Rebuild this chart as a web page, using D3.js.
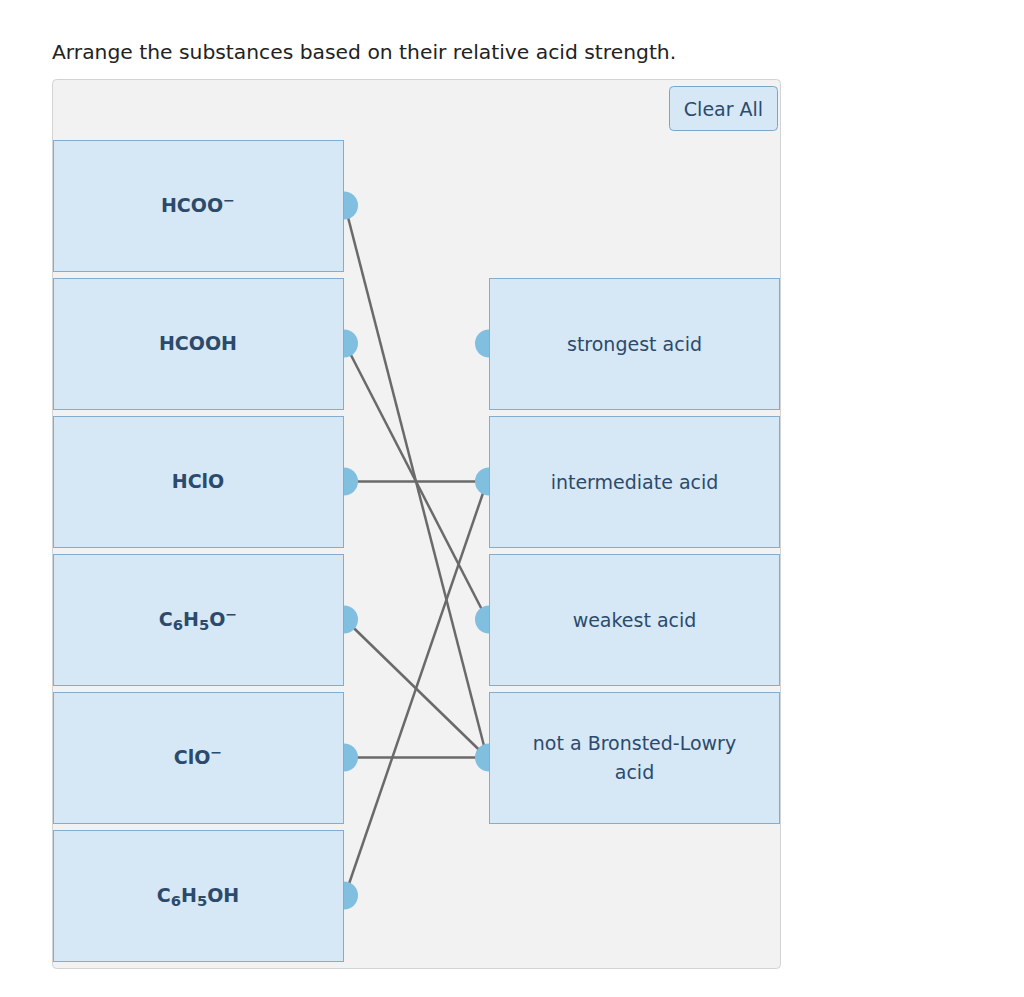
<!DOCTYPE html><html><head><meta charset="utf-8"><script src="https://cdn.jsdelivr.net/npm/d3@7"></script>
<style>body{margin:0;background:#fff}</style></head><body><svg id="c" width="1024" height="997"></svg>
<script>
const substances=[["HCOO","−"],["HCOOH",""],["HClO",""],["C6H5O","−"],["ClO","−"],["C6H5OH",""]];
const categories=[["strongest acid"],["intermediate acid"],["weakest acid"],["not a Bronsted-Lowry","acid"]];
const links=[[0,3],[1,2],[2,1],[3,3],[4,3],[5,1]];
const svg=d3.select("#c");
const font="DejaVu Sans, Verdana, sans-serif";
svg.append("text").attr("x",52).attr("y",59).attr("font-family",font).attr("font-size",20.3).attr("fill","#222").text("Arrange the substances based on their relative acid strength.");
svg.append("rect").attr("x",52.5).attr("y",79.5).attr("width",728).attr("height",889).attr("rx",4).attr("fill","#f2f2f2").attr("stroke","#d3d3d3");
const g=svg.append("g");
g.append("rect").attr("x",669.5).attr("y",86.5).attr("width",108).attr("height",44).attr("rx",4).attr("fill","#d6e8f6").attr("stroke","#7aa6c8");
g.append("text").attr("x",723.5).attr("y",116).attr("text-anchor","middle").attr("font-family",font).attr("font-size",19).attr("fill","#2c4a6b").text("Clear All");
const p=7/138;
const yL=d3.scaleBand().domain(d3.range(substances.length)).range([140,961]).paddingInner(p);
const yR=d3.scaleBand().domain(d3.range(categories.length)).range([278,823]).paddingInner(p);
const xL=53,xR=489,w=290;
const lc=i=>yL(i)+yL.bandwidth()/2, rc=i=>yR(i)+yR.bandwidth()/2;
substances.forEach((s,i)=>{
 g.append("rect").attr("x",xL+0.5).attr("y",yL(i)+0.5).attr("width",w).attr("height",yL.bandwidth()).attr("fill","#d6e8f6").attr("stroke","#82add0");
});
categories.forEach((c,i)=>{
 g.append("rect").attr("x",xR+0.5).attr("y",yR(i)+0.5).attr("width",w).attr("height",yR.bandwidth()).attr("fill","#d6e8f6").attr("stroke","#82add0");
});
links.forEach(([a,b])=>{
 g.append("line").attr("x1",xL+w+2).attr("y1",lc(a)).attr("x2",xR-2).attr("y2",rc(b)).attr("stroke","#6a6a6a").attr("stroke-width",2.5);
});
const arc=d3.arc().innerRadius(0).outerRadius(14);
substances.forEach((s,i)=>{
 g.append("path").attr("transform",`translate(${xL+w+1},${lc(i)})`).attr("d",arc({startAngle:0,endAngle:Math.PI})).attr("fill","#80bfe0");
});
categories.forEach((c,i)=>{
 g.append("path").attr("transform",`translate(${xR},${rc(i)})`).attr("d",arc({startAngle:Math.PI,endAngle:2*Math.PI})).attr("fill","#80bfe0");
});
function chem(t,name,sup){
 const parts=name.match(/\d+|\D+/g); let off=0;
 parts.forEach(pt=>{
  const isNum=/\d/.test(pt); const target=isNum?4:0;
  const sp=t.append("tspan").text(pt).attr("dy",target-off);
  if(isNum)sp.attr("font-size","0.78em");
  off=target;
 });
 if(sup)t.append("tspan").attr("font-size","0.75em").attr("dy",-7-off).text(sup);
}
substances.forEach((s,i)=>{
 const t=g.append("text").attr("x",xL+w/2).attr("y",lc(i)+6).attr("text-anchor","middle").attr("font-family",font).attr("font-weight","bold").attr("font-size",19).attr("fill","#2c4a6b");
 chem(t,s[0],s[1]);
});
categories.forEach((c,i)=>{
 c.forEach((line,k)=>{
  g.append("text").attr("x",xR+w/2+0.5).attr("y",rc(i)+7+(k-(c.length-1)/2)*29).attr("text-anchor","middle").attr("font-family",font).attr("font-size",19).attr("fill","#2c4a6b").text(line);
 });
});
</script></body></html>
